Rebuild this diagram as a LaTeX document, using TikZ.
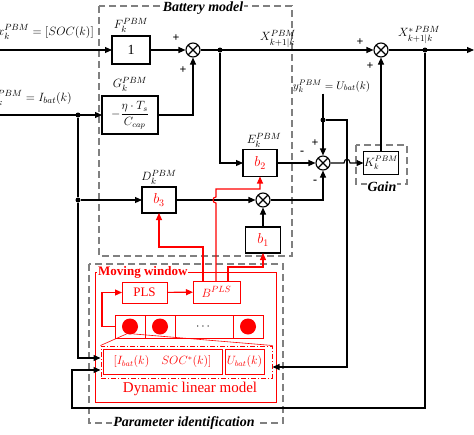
\documentclass[tikz,border=0pt]{standalone}
\usepackage{amsmath}
\usepackage{fontspec}
\setmainfont{Liberation Serif}
\usetikzlibrary{positioning,arrows.meta}

\begin{document}
\begin{tikzpicture}[x=1pt,y=-1pt,
blk/.style={draw, line width=1.1pt, inner sep=0pt, outer sep=0pt, font=\fontsize{14}{16}\selectfont},
sum/.style={draw, circle, line width=1.1pt, minimum size=14pt, inner sep=0pt,
  path picture={\draw[line width=1.1pt] (path picture bounding box.south west) -- (path picture bounding box.north east)
  (path picture bounding box.north west) -- (path picture bounding box.south east);}},
lbl/.style={font=\fontsize{13}{15}\selectfont, inner sep=1pt},
sgn/.style={font=\bfseries\fontsize{12}{12}\selectfont, inner sep=0pt},
arr/.style={-{Triangle[length=7pt,width=6pt]}, line width=1.1pt},
rarr/.style={-{Triangle[length=7pt,width=6pt]}, red, line width=1.1pt},
jn/.style={circle, fill, inner sep=0pt, minimum size=5pt},
gframe/.style={draw=gray, dash pattern=on 7pt off 4pt, line width=1.1pt},
rbox/.style={draw=red, line width=1pt, text=red, inner sep=0pt, outer sep=0pt, font=\fontsize{13}{15}\selectfont},
ttl/.style={font=\bfseries\itshape\fontsize{14}{16}\selectfont, fill=white, inner sep=1pt}
]
\useasboundingbox (0,0) rectangle (474,434);

\draw[gframe] (99,6) rectangle (292,256);
\draw[gframe] (89,264) rectangle (283,423);
\draw[gframe] (356,145) rectangle (407,184);
\draw[draw=red, line width=1pt] (95,272) rectangle (276,402);

\node[blk, minimum width=38pt, minimum height=28pt] (one) at (131,50) {1};
\node[lbl, above=2pt of one] (flbl) {$F_k^{PBM}$};
\node[blk, minimum width=56pt, minimum height=38pt, font=\fontsize{12}{14}\selectfont] (gbox) at (130,115) {$-\dfrac{\eta\cdot T_s}{C_{cap}}$};
\node[lbl, above=3pt of gbox] (glbl) {$G_k^{PBM}$};
\node[blk, minimum width=34pt, minimum height=26pt, text=red] (b3) at (159,200) {$b_3$};
\node[lbl, above=1pt of b3] (dlbl) {$D_k^{PBM}$};
\node[blk, minimum width=34pt, minimum height=27pt, text=red] (b2) at (260,163) {$b_2$};
\node[lbl, above=1pt of b2, xshift=4pt] (elbl) {$E_k^{PBM}$};
\node[blk, minimum width=35pt, minimum height=26pt, text=red] (b1) at (263,240) {$b_1$};
\node[blk, minimum width=35pt, minimum height=23pt, font=\fontsize{12}{14}\selectfont] (kg) at (381,163) {$K_k^{PBM}$};
\node[ttl] (gain) at (382,187) {Gain};
\node[ttl] (bm) at (203,8) {Battery model};
\node[ttl] (pid) at (184,423) {Parameter identification};

\node[sum] (s1) at (193,50) {};
\node[sum] (s2) at (381,50) {};
\node[sum] (s3) at (323,163) {};
\node[sum] (s4) at (263,200) {};
\node[sgn] (p1) at (176,38) {+};
\node[sgn] (p2) at (183,70) {+};
\node[sgn] (p3) at (360,42) {+};
\node[sgn] (p4) at (370,66) {+};
\node[sgn] (p5) at (315,143) {+};
\node[sgn] (m1) at (302,153) {-};
\node[sgn] (m2) at (315,182) {-};

\node[jn] (j1) at (220,50) {};
\node[jn] (j2) at (425,50) {};
\node[jn] (j3) at (78,115) {};
\node[jn] (j4) at (78,200) {};
\node[jn] (j5) at (323,120) {};

\node[lbl, anchor=east] (xin) at (95,32) {$x_k^{PBM}=\left[SOC(k)\right]$};
\node[lbl, anchor=east] (uin) at (73,98) {$u_k^{PBM}=I_{bat}(k)$};
\node[lbl, anchor=west, font=\fontsize{11}{13}\selectfont] (yin) at (292,86) {$y_k^{PBM}=U_{bat}(k)$};
\node[lbl] (xp) at (278,39) {$X_{k+1|k}^{PBM}$};
\node[lbl] (xs) at (419,35) {$X_{k+1|k}^{*\,PBM}$};

\node[font=\bfseries\fontsize{13}{15}\selectfont, text=red, fill=white, inner sep=1pt, anchor=west] (mw) at (97,272) {Moving window};
\node[text=red, font=\fontsize{15}{17}\selectfont] (dlm) at (190,389) {Dynamic linear model};
\node[rbox, minimum width=45pt, minimum height=21pt] (pls) at (144.5,292.5) {PLS};
\node[rbox, minimum width=47pt, minimum height=22pt] (bpls) at (216.5,292) {$B^{PLS}$};
\node[rbox, minimum width=30pt, minimum height=23pt] (c1) at (130,326.5) {};
\node[rbox, minimum width=30pt, minimum height=23pt, right=0pt of c1] (c2) {};
\node[rbox, minimum width=58pt, minimum height=23pt, right=0pt of c2, text=black] (c3) {$\cdots$};
\node[rbox, minimum width=30pt, minimum height=23pt, right=0pt of c3] (c4) {};
\node[circle, fill=red, minimum size=16pt, inner sep=0pt] (d1) at (c1) {};
\node[circle, fill=red, minimum size=16pt, inner sep=0pt] (d2) at (c2) {};
\node[circle, fill=red, minimum size=16pt, inner sep=0pt] (d4) at (c4) {};
\node[draw=red, dash pattern=on 5pt off 2pt on 1pt off 2pt, line width=1pt, minimum width=171pt, minimum height=32pt, inner sep=0pt] (dd) at (186.5,362) {};
\node[rbox, minimum width=119pt, minimum height=25pt, font=\fontsize{12}{14}\selectfont] (ib) at (162.5,361.5) {$\left[I_{bat}(k)\quad SOC^{*}(k)\right]$};
\node[rbox, minimum width=39pt, minimum height=25pt, font=\fontsize{12}{14}\selectfont] (ub) at (244.5,361.5) {$U_{bat}(k)$};

\coordinate (in1) at (0,50);
\coordinate (in2) at (0,115);
\coordinate (out) at (474,50);
\coordinate (lp1) at (72,408);
\coordinate (lp2) at (72,370);
\coordinate (lq) at (78,358);
\coordinate (uc) at (347,367);
\coordinate (rl) at (102,292.5);
\coordinate (r1) at (203,281);
\coordinate (r2) at (216,281);
\coordinate (r3) at (228,281);

\draw[arr] (in1) -- (one);
\draw[arr] (one) -- (s1);
\draw[arr] (s1) -- (s2);
\draw[arr] (s2) -- (out);
\draw[arr] (in2) -- (gbox);
\draw[arr] (gbox.east) -| (s1);
\draw[arr] (j1) |- (b2);
\draw[arr] (j3) -- (j4) -- (b3);
\draw[arr] (j4) -- (lq) -- (lq -| dd.west);
\draw[arr] (j2) |- (lp1) -- (lp2) -- (lp2 -| dd.west);
\draw[arr] (b2) -- (s3);
\draw[arr] (yin.south -| j5) -- (s3);
\draw[arr] (j5) -| (uc) -- (uc -| dd.east);
\draw[arr] (s3) -- (344,163) .. controls (344,158) and (350,158) .. (350,163) -- (kg);
\draw[arr] (kg) -- (s2);
\draw[arr] (b3) -- (s4);
\draw[arr] (b1) -- (s4);
\draw[arr] (s4) -| (s3);

\draw[rarr] (c1.west) -| (rl) -- (pls);
\draw[rarr] (pls) -- (bpls);
\draw[red, line width=0.6pt] (d1.-115) -- (dd.north west) (d1.-65) -- (dd.north east);
\draw[rarr] (r1) -- (203,247) -| (b3);
\draw[rarr] (r2) -- (216,203) .. controls (212,203) and (212,197) .. (216,197) -- (216,189) -| (b2);
\draw[rarr] (r3) -- (228,267) -| (b1);
\end{tikzpicture}
\end{document}
